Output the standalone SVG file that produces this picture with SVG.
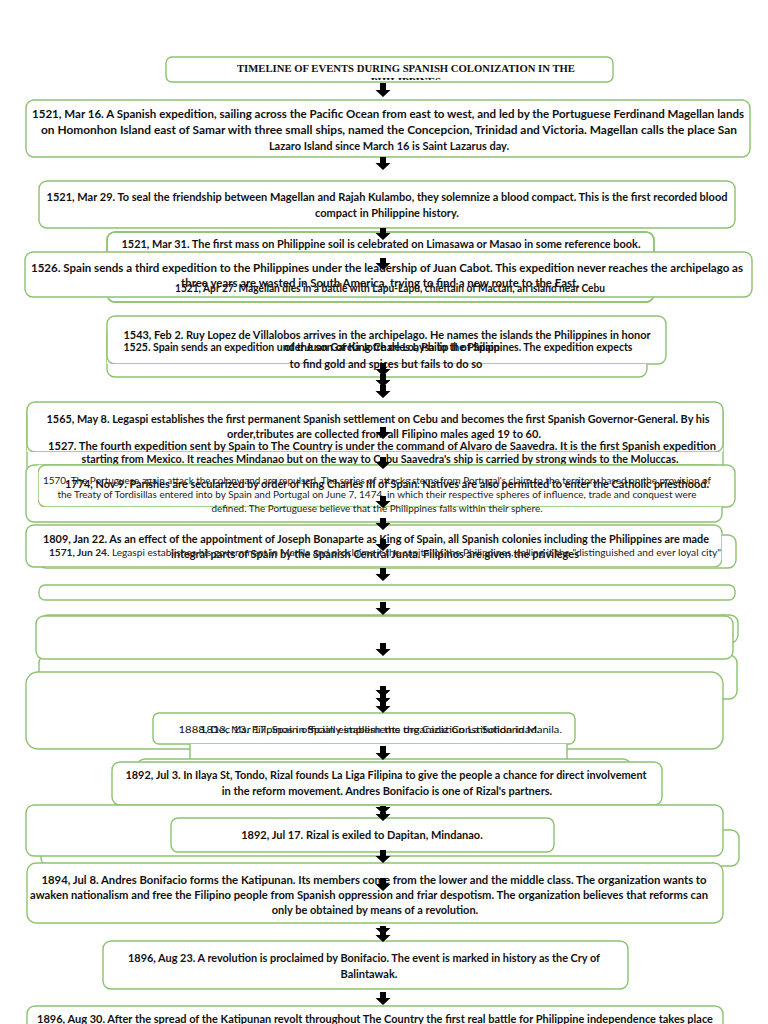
<svg xmlns="http://www.w3.org/2000/svg" width="768" height="1024" viewBox="0 0 768 1024">
<style>
.bx{fill:#fff;stroke:#8dc26f;stroke-width:1.4}
.bn{fill:none;stroke:#8dc26f;stroke-width:1.4}
.t{font-family:Lato,"Liberation Sans",sans-serif;font-weight:bold;font-size:11px;fill:#111;text-anchor:middle}
.s{font-family:Lato,"Liberation Sans",sans-serif;font-weight:normal;font-size:9.5px;fill:#222;text-anchor:middle}
.r{font-family:Lato,"Liberation Sans",sans-serif;font-weight:normal;font-size:10px;fill:#111;text-anchor:middle}
.h{font-family:"Liberation Serif",serif;font-weight:bold;font-size:11px;fill:#111;text-anchor:middle}
.ar{fill:#000}
</style>
<defs>
<clipPath id="cTitle"><rect x="166" y="57" width="447" height="23"/></clipPath>
<clipPath id="cExD"><path clip-rule="evenodd" d="M0,0H768V1024H0Z M25,252H752V297H25Z"/></clipPath>
<clipPath id="cExE"><path clip-rule="evenodd" d="M0,0H768V1024H0Z M107,316H666V364H107Z"/></clipPath>
<clipPath id="cExF"><path clip-rule="evenodd" d="M0,0H768V1024H0Z M27,402H723V452H27Z"/></clipPath>
<clipPath id="cEx1774"><path clip-rule="evenodd" d="M0,0H768V1024H0Z M38,465H735V507H38Z"/></clipPath>
<clipPath id="cEx1809"><path clip-rule="evenodd" d="M0,0H768V1024H0Z M26,525H722V567H26Z"/></clipPath>
<clipPath id="cExL"><path clip-rule="evenodd" d="M0,0H768V1024H0Z M153,713H575V744H153Z"/></clipPath>
</defs>

<g id="nodes">
<g id="n-title">
<rect class="bx" x="166" y="57" width="447" height="25" rx="6"/>
<text class="h" x="406" y="72" textLength="338" lengthAdjust="spacingAndGlyphs">TIMELINE OF EVENTS DURING SPANISH COLONIZATION IN THE</text>
<text class="h" x="406" y="85" clip-path="url(#cTitle)">PHILIPPINES</text>
</g>
<g id="n-1521-mar16">
<rect class="bx" x="26" y="100" width="724" height="57" rx="8"/>
<text class="t" x="388" y="118" textLength="712" lengthAdjust="spacingAndGlyphs">1521, Mar 16. A Spanish expedition, sailing across the Pacific Ocean from east to west, and led by the Portuguese Ferdinand Magellan lands</text>
<text class="t" x="389" y="134" textLength="696" lengthAdjust="spacingAndGlyphs">on Homonhon Island east of Samar with three small ships, named the Concepcion, Trinidad and Victoria. Magellan calls the place San</text>
<text class="t" x="389" y="150">Lazaro Island since March 16 is Saint Lazarus day.</text>
</g>
<g id="n-1521-mar29">
<rect class="bx" x="39" y="181" width="696" height="47" rx="8"/>
<text class="t" x="387" y="201" textLength="681" lengthAdjust="spacingAndGlyphs">1521, Mar 29. To seal the friendship between Magellan and Rajah Kulambo, they solemnize a blood compact. This is the first recorded blood</text>
<text class="t" x="387" y="217">compact in Philippine history.</text>
</g>
<g id="n-1521-mar31">
<rect class="bx" x="107" y="232" width="547" height="70" rx="8"/>
<text class="t" x="381" y="248" textLength="519" lengthAdjust="spacingAndGlyphs">1521, Mar 31. The first mass on Philippine soil is celebrated on Limasawa or Masao in some reference book.</text>
</g>
<g id="n-1526">
<rect class="bx" x="25" y="252" width="727" height="45" rx="8"/>
<text class="t" x="387" y="272" textLength="712" lengthAdjust="spacingAndGlyphs">1526. Spain sends a third expedition to the Philippines under the leadership of Juan Cabot. This expedition never reaches the archipelago as</text>
<text class="t" x="380" y="287" textLength="398" lengthAdjust="spacingAndGlyphs">three years are wasted in South America, trying to find a new route to the East.</text>
</g>
<g id="n-1521-apr27">
<rect class="bn" x="107" y="232" width="547" height="70" rx="8" clip-path="url(#cExD)"/>
<text class="t" x="390" y="292" textLength="430" lengthAdjust="spacingAndGlyphs">1521, Apr 27. Magellan dies in a battle with Lapu-Lapu, chieftain of Mactan, an island near Cebu</text>
</g>
<g id="n-1543">
<rect class="bx" x="107" y="316" width="559" height="48" rx="8"/>
<text class="t" x="387" y="339" textLength="527" lengthAdjust="spacingAndGlyphs">1543, Feb 2.  Ruy Lopez de Villalobos  arrives in the archipelago. He names the islands the Philippines in honor</text>
<text class="t" x="392" y="351">of the son of King Charles I, Philip II of Spain</text>
</g>
<g id="n-1525">
<rect class="bx" x="107" y="325" width="540" height="52" rx="8" clip-path="url(#cExE)"/>
<text class="t" x="378" y="351" textLength="509" lengthAdjust="spacingAndGlyphs">1525. Spain sends an expedition under Juan Garcia Jofre de Loaysa to the Philippines. The expedition expects</text>
<text class="t" x="386" y="368">to find gold and spices but fails to do so</text>
</g>
<g id="n-1565">
<rect class="bx" x="27" y="402" width="696" height="50" rx="8"/>
<text class="t" x="378" y="423" textLength="663" lengthAdjust="spacingAndGlyphs">1565, May 8. Legaspi establishes the first permanent Spanish settlement on Cebu and becomes the first Spanish Governor-General. By his</text>
<text class="t" x="384" y="438">order,tributes are collected from all Filipino males aged 19 to 60.</text>
</g>
<g id="n-1527">
<rect class="bx" x="27" y="405" width="696" height="70" rx="8" clip-path="url(#cExF)"/>
<text class="t" x="382" y="450" textLength="668" lengthAdjust="spacingAndGlyphs">1527. The fourth expedition sent by Spain to The Country is under the command of Alvaro de Saavedra. It is the first Spanish expedition</text>
<text class="t" x="380" y="463" textLength="597" lengthAdjust="spacingAndGlyphs">starting from Mexico. It reaches Mindanao but on the way to Cebu Saavedra's ship is carried by strong winds to the Moluccas.</text>
</g>
<g id="n-1774">
<rect class="bx" x="38" y="465" width="697" height="42" rx="8"/>
<text class="t" x="387" y="488" textLength="644" lengthAdjust="spacingAndGlyphs">1774, Nov 9. Parishes are secularized by order of King Charles III of Spain. Natives are also permitted to enter the Catholic priesthood.</text>
</g>
<g id="n-1570">
<rect class="bx" x="26" y="465" width="696" height="57" rx="8" clip-path="url(#cEx1774)"/>
<text class="s" x="377" y="484" textLength="668" lengthAdjust="spacingAndGlyphs">1570. The Portuguese again attack the colony and are repulsed. The series of attacks stems from Portugal's claim to the territory based on the provision of</text>
<text class="s" x="377" y="498" textLength="639" lengthAdjust="spacingAndGlyphs">the Treaty of Tordisillas entered into by Spain and Portugal on June 7, 1474, in which their respective spheres of influence, trade and conquest were</text>
<text class="s" x="377" y="512" textLength="331" lengthAdjust="spacingAndGlyphs">defined. The Portuguese believe that the Philippines falls within their sphere.</text>
</g>
<g id="n-1809">
<rect class="bx" x="26" y="525" width="696" height="42" rx="8"/>
<text class="t" x="376" y="543" textLength="666" lengthAdjust="spacingAndGlyphs">1809, Jan 22. As an effect of the appointment of Joseph Bonaparte as King of Spain, all Spanish colonies including the Philippines are made</text>
<text class="t" x="375" y="558" textLength="408" lengthAdjust="spacingAndGlyphs">integral parts of Spain by the Spanish Central Junta. Filipinos are given the privileges</text>
</g>
<g id="n-1571">
<rect class="bx" x="38" y="535" width="698" height="33" rx="8" clip-path="url(#cEx1809)"/>
<text class="s" x="385" y="556" textLength="672" lengthAdjust="spacingAndGlyphs"><tspan font-weight="bold">1571, Jun 24.</tspan> Legaspi establishes his government in Manila and proclaims it the capital of the Philippines, calling it the "distinguished and ever loyal city"</text>
</g>
<g id="n-empty-1">
<rect class="bx" x="39" y="585" width="696" height="15" rx="6"/>
</g>
<g id="n-empty-2">
<rect class="bx" x="40" y="615" width="698" height="28" rx="8"/>
</g>
<g id="n-empty-3">
<rect class="bx" x="39" y="655" width="698" height="44" rx="8"/>
</g>
<g id="n-empty-4">
<rect class="bx" x="36" y="616" width="697" height="43" rx="8"/>
</g>
<g id="n-empty-5">
<rect class="bx" x="26" y="672" width="697" height="77" rx="12"/>
</g>
<g id="n-1813">
<rect class="bx" x="153" y="713" width="422" height="31" rx="6"/>
<text class="r" x="381" y="733" textLength="362" lengthAdjust="spacingAndGlyphs">1813, Mar 17. Spain officially implements the Cadiz Constitution in Manila.</text>
</g>
<g id="n-1888">
<rect class="bx" x="190" y="722" width="377" height="43" rx="6" clip-path="url(#cExL)"/>
<text class="r" x="359" y="733" textLength="361" lengthAdjust="spacingAndGlyphs">1888, Dec 13. Filipinos in Spain establish the organization La Solidaridad.</text>
</g>
<g id="n-empty-6">
<rect class="bx" x="137" y="759" width="494" height="36" rx="8"/>
</g>
<g id="n-1892-jul3">
<rect class="bx" x="112" y="762" width="550" height="43" rx="8"/>
<text class="t" x="386" y="779" textLength="521" lengthAdjust="spacingAndGlyphs">1892, Jul 3. In Ilaya St, Tondo, Rizal founds La Liga Filipina to give the people a chance for direct involvement</text>
<text class="t" x="387" y="795">in the reform movement. Andres Bonifacio is one of Rizal's partners.</text>
</g>
<g id="n-empty-7">
<rect class="bx" x="41" y="830" width="698" height="36" rx="8"/>
</g>
<g id="n-empty-8">
<rect class="bx" x="26" y="805" width="697" height="51" rx="8"/>
</g>
<g id="n-1892-jul17">
<rect class="bx" x="171" y="818" width="383" height="34" rx="7"/>
<text class="t" x="362" y="839">1892, Jul 17. Rizal is exiled to Dapitan, Mindanao.</text>
</g>
<g id="n-1894">
<rect class="bx" x="27" y="863" width="696" height="60" rx="9"/>
<text class="t" x="374" y="884" textLength="665" lengthAdjust="spacingAndGlyphs">1894, Jul 8. Andres Bonifacio forms the Katipunan. Its members come from the lower and the middle class. The organization wants to</text>
<text class="t" x="369" y="899" textLength="678" lengthAdjust="spacingAndGlyphs">awaken nationalism and free the Filipino people from Spanish oppression and friar despotism. The organization believes that reforms can</text>
<text class="t" x="375" y="914">only be obtained by means of a revolution.</text>
</g>
<g id="n-1896-aug23">
<rect class="bx" x="103" y="941" width="525" height="48" rx="8"/>
<text class="t" x="364" y="962" textLength="472" lengthAdjust="spacingAndGlyphs">1896, Aug 23. A revolution is proclaimed by Bonifacio. The event is marked in history as the Cry of</text>
<text class="t" x="369" y="978">Balintawak.</text>
</g>
<g id="n-1896-aug30">
<rect class="bx" x="27" y="1006" width="696" height="40" rx="8"/>
<text class="t" x="375" y="1023" textLength="676" lengthAdjust="spacingAndGlyphs">1896, Aug 30. After the spread of the Katipunan revolt throughout The Country the first real battle for Philippine independence takes place</text>
</g>
</g>

<g id="connectors" class="ar">
<path d="M380,83H386V90H390.5L383,97L375.5,90H380Z"/>
<path d="M380,157H386V163H390.5L383,170L375.5,163H380Z"/>
<path d="M380,228H386V233H390.5L383,240L375.5,233H380Z"/>
<path d="M380,258H386V263H390.5L383,270L375.5,263H380Z"/>
<path d="M380,363H386V369H390.5L383,376L375.5,369H380Z"/>
<path d="M380,374H386V380H390.5L383,387L375.5,380H380Z"/>
<path d="M380,385H386V391H390.5L383,398L375.5,391H380Z"/>
<path d="M380,427H386V432H390.5L383,439L375.5,432H380Z"/>
<path d="M380,457H386V462H390.5L383,469L375.5,462H380Z"/>
<path d="M380,496H386V501H390.5L383,508L375.5,501H380Z"/>
<path d="M380,518H386V523H390.5L383,530L375.5,523H380Z"/>
<path d="M380,539H386V544H390.5L383,551L375.5,544H380Z"/>
<path d="M380,568H386V574H390.5L383,581L375.5,574H380Z"/>
<path d="M380,602H386V608H390.5L383,615L375.5,608H380Z"/>
<path d="M380,643H386V649H390.5L383,656L375.5,649H380Z"/>
<path d="M380,686H386V690H390.5L383,697L375.5,690H380Z"/>
<path d="M380,694H386V698H390.5L383,705L375.5,698H380Z"/>
<path d="M380,702H386V706H390.5L383,713L375.5,706H380Z"/>
<path d="M380,746H386V753H390.5L383,760L375.5,753H380Z"/>
<path d="M380,806H386V807H390.5L383,814L375.5,807H380Z"/>
<path d="M380,812H386V814H390.5L383,821L375.5,814H380Z"/>
<path d="M380,850H386V856H390.5L383,863L375.5,856H380Z"/>
<path d="M380,878H386V884H390.5L383,891L375.5,884H380Z"/>
<path d="M380,926H386V928H390.5L383,935L375.5,928H380Z"/>
<path d="M380,932H386V935H390.5L383,942L375.5,935H380Z"/>
<path d="M380,992H386V998H390.5L383,1005L375.5,998H380Z"/>
</g>
</svg>
